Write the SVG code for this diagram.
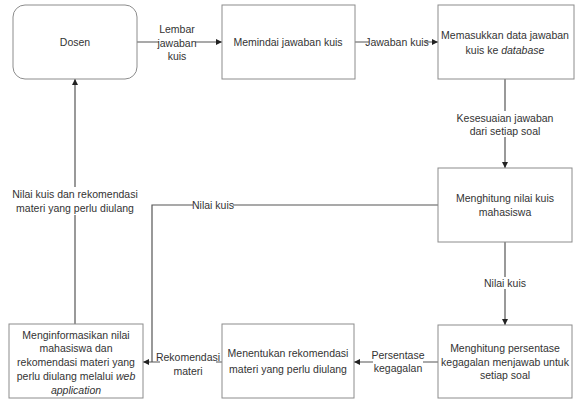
<svg xmlns="http://www.w3.org/2000/svg" width="580" height="406" viewBox="0 0 580 406">
<defs>
<marker id="arr" markerWidth="6" markerHeight="6" refX="6" refY="3" orient="auto" markerUnits="userSpaceOnUse">
<path d="M0,0 L6,3 L0,6 z" fill="#222"/>
</marker>
<style>
.box{fill:#fff;stroke:#8c8c8c;stroke-width:1}
.t{font-family:"Liberation Sans",Arial,sans-serif;font-size:10.5px;fill:#333;text-anchor:middle;dominant-baseline:central}
.c{fill:none;stroke:#555;stroke-width:1.2}
.bg{fill:#fff}
</style>
</defs>
<rect width="580" height="406" fill="#fff"/>
<g id="connectors">
<line class="c" x1="137" y1="42" x2="222" y2="42" marker-end="url(#arr)"/>
<line class="c" x1="355" y1="42" x2="438" y2="42" marker-end="url(#arr)"/>
<line class="c" x1="505" y1="79" x2="505" y2="168" marker-end="url(#arr)"/>
<line class="c" x1="505" y1="242" x2="505" y2="325" marker-end="url(#arr)"/>
<line class="c" x1="438" y1="362" x2="354" y2="362" marker-end="url(#arr)"/>
<line class="c" x1="222" y1="362" x2="143" y2="362" marker-end="url(#arr)"/>
<polyline class="c" points="438,205 152,205 152,362"/>
<line class="c" x1="75" y1="324" x2="75" y2="79" marker-end="url(#arr)"/>
<rect class="bg" x="159" y="23" width="36" height="38"/>
<text class="t" x="177" y="29">Lembar</text>
<text class="t" x="177" y="43">jawaban</text>
<text class="t" x="177" y="56">kuis</text>
<rect class="bg" x="369" y="36" width="56" height="12"/>
<text class="t" x="397" y="42">Jawaban kuis</text>
<rect class="bg" x="455" y="111" width="100" height="26"/>
<text class="t" x="505" y="118">Kesesuaian jawaban</text>
<text class="t" x="505" y="131">dari setiap soal</text>
<rect class="bg" x="193" y="199" width="40" height="12"/>
<text class="t" x="213" y="205">Nilai kuis</text>
<rect class="bg" x="485" y="277" width="40" height="12"/>
<text class="t" x="505" y="283">Nilai kuis</text>
<rect class="bg" x="10" y="187" width="130" height="28"/>
<text class="t" x="75" y="194">Nilai kuis dan rekomendasi</text>
<text class="t" x="75" y="208">materi yang perlu diulang</text>
<rect class="bg" x="373" y="349" width="50" height="25"/>
<text class="t" x="398" y="355">Persentase</text>
<text class="t" x="398" y="368">kegagalan</text>
<rect class="bg" x="160" y="351" width="56" height="26"/>
<text class="t" x="188" y="357">Rekomendasi</text>
<text class="t" x="188" y="371">materi</text>
</g>
<g id="dosen">
<rect class="box" x="13" y="5" width="124" height="74" rx="12"/>
<text class="t" x="75" y="42">Dosen</text>
</g>
<g id="memindai">
<rect class="box" x="222" y="5" width="133" height="74"/>
<text class="t" x="288" y="42">Memindai jawaban kuis</text>
</g>
<g id="memasukkan">
<rect class="box" x="438" y="5" width="136" height="74"/>
<text class="t" x="505" y="35">Memasukkan data jawaban</text>
<text class="t" x="505" y="50">kuis ke <tspan font-style="italic">database</tspan></text>
</g>
<g id="nilai">
<rect class="box" x="438" y="168" width="134" height="74"/>
<text class="t" x="505" y="198">Menghitung nilai kuis</text>
<text class="t" x="505" y="212">mahasiswa</text>
</g>
<g id="persentase">
<rect class="box" x="438" y="325" width="134" height="73"/>
<text class="t" x="505" y="348">Menghitung persentase</text>
<text class="t" x="505" y="362">kegagalan menjawab untuk</text>
<text class="t" x="505" y="375">setiap soal</text>
</g>
<g id="menentukan">
<rect class="box" x="222" y="324" width="132" height="74"/>
<text class="t" x="288" y="353">Menentukan rekomendasi</text>
<text class="t" x="288" y="369">materi yang perlu diulang</text>
</g>
<g id="menginformasikan">
<rect class="box" x="9" y="324" width="134" height="74"/>
<text class="t" x="76" y="335">Menginformasikan nilai</text>
<text class="t" x="76" y="348">mahasiswa dan</text>
<text class="t" x="76" y="362">rekomendasi materi yang</text>
<text class="t" x="76" y="376">perlu diulang melalui <tspan font-style="italic">web</tspan></text>
<text class="t" x="76" y="390" font-style="italic">application</text>
</g>
</svg>
